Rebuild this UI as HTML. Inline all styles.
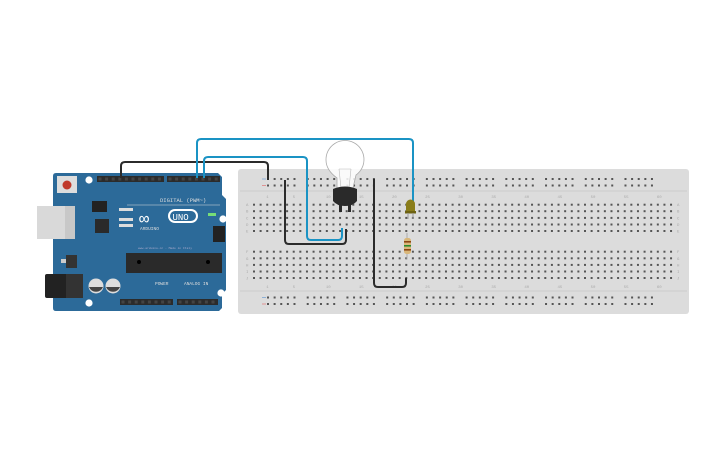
<!DOCTYPE html>
<html><head><meta charset="utf-8"><style>
html,body{margin:0;padding:0;background:#fff;width:725px;height:453px;overflow:hidden}
svg{display:block}
text{font-family:"Liberation Mono",monospace}
</style></head><body>
<svg width="725" height="453" viewBox="0 0 725 453" xmlns="http://www.w3.org/2000/svg">
<!-- breadboard -->
<rect x="238" y="169" width="451" height="145" rx="3" fill="#dcdcdc"/>
<line x1="240" y1="191" x2="687" y2="191" stroke="#c8c8c8" stroke-width="0.8"/>
<line x1="240" y1="291" x2="687" y2="291" stroke="#c8c8c8" stroke-width="0.8"/>
<line x1="262" y1="179" x2="266" y2="179" stroke="#7aa6d6" stroke-width="0.8"/>
<line x1="262" y1="185.5" x2="266" y2="185.5" stroke="#e08080" stroke-width="0.8"/>
<line x1="262" y1="297.5" x2="266" y2="297.5" stroke="#7aa6d6" stroke-width="0.8"/>
<line x1="262" y1="304" x2="266" y2="304" stroke="#e08080" stroke-width="0.8"/>
<g id="holes" fill="#555"></g>
<g font-size="4" fill="#aaa" id="lbls"></g>

<!-- arduino -->
<path d="M56,173 H218 L222,177 V195 L226,199 V290 L222,294 V308 L219,311 H56 Q53,311 53,308 V176 Q53,173 56,173 Z" fill="#2c6a99"/>
<rect x="37" y="206" width="38" height="33" fill="#c8c8c8"/>
<rect x="37" y="206" width="28" height="33" fill="#d9d9d9"/>
<rect x="57" y="176" width="20" height="17" fill="#ddd"/>
<circle cx="67" cy="185" r="4.5" fill="#c0392b"/>
<rect x="45" y="274" width="38" height="24" rx="2" fill="#222"/>
<rect x="66" y="274" width="17" height="24" fill="#333"/>
<rect x="66" y="255" width="11" height="13" fill="#333"/>
<rect x="61" y="259" width="5" height="4" fill="#ccc"/>
<circle cx="96" cy="286" r="7.5" fill="#ddd"/><path d="M89,287 A7.5,7.5 0 0 0 103,287 Z" fill="#444"/>
<circle cx="113" cy="286" r="7.5" fill="#ddd"/><path d="M106,287 A7.5,7.5 0 0 0 120,287 Z" fill="#444"/>
<rect x="95" y="219" width="14" height="14" fill="#2a2a2a"/>
<rect x="92" y="201" width="15" height="11" fill="#222"/>
<rect x="213" y="226" width="12" height="16" fill="#222"/>
<circle cx="89" cy="180" r="3.6" fill="#fff"/>
<circle cx="89" cy="303" r="3.6" fill="#fff"/>
<circle cx="223" cy="219" r="3.6" fill="#fff"/>
<circle cx="221" cy="293" r="3.6" fill="#fff"/>
<rect x="97" y="176" width="67" height="6" fill="#2b2b2b"/>
<rect x="167" y="176" width="53" height="6" fill="#2b2b2b"/>
<rect x="120" y="299" width="53" height="6" fill="#2b2b2b"/>
<rect x="177" y="299" width="41" height="6" fill="#2b2b2b"/>
<g id="pins" fill="#111"></g>
<rect x="126" y="253" width="96" height="20" fill="#2a2a2a"/>
<circle cx="139" cy="262" r="2" fill="#000"/><circle cx="208" cy="262" r="2" fill="#000"/>
<rect x="119" y="208" width="14" height="3" fill="#ddd"/>
<rect x="119" y="218" width="14" height="3" fill="#ddd"/>
<rect x="119" y="224" width="14" height="3" fill="#ddd"/>
<rect x="208" y="213" width="8" height="3" fill="#7d7"/>
<line x1="127" y1="205" x2="220" y2="205" stroke="#ddd" stroke-width="0.6"/>
<text x="160" y="202" font-size="5.5" fill="#ddd">DIGITAL (PWM~)</text>
<text x="139" y="224" font-size="17" fill="#fff" font-family="Liberation Sans,sans-serif">∞</text>
<text x="140" y="230" font-size="4.5" fill="#ddd">ARDUINO</text>
<rect x="168" y="209" width="30" height="14" rx="7" fill="#fff"/>
<rect x="170" y="211" width="26" height="10" rx="5" fill="#2c6a99"/>
<text x="172.5" y="220" font-size="9" fill="#fff" font-family="Liberation Sans,sans-serif">UNO</text>
<text x="155" y="285" font-size="4.5" fill="#ddd">POWER</text>
<text x="184" y="285" font-size="4.5" fill="#ddd">ANALOG IN</text>
<text x="138" y="249" font-size="3" fill="#aac">www.arduino.cc - Made in Italy</text>

<!-- wires -->
<g fill="none" stroke-width="2" stroke-linejoin="round">
<path d="M121,178 V166 Q121,162 125,162 H264 Q268,162 268,166 V180" stroke="#2b2b2b"/>
<path d="M197,178 V143 Q197,139 201,139 H409 Q413,139 413,143 V205" stroke="#1a93c4"/>
<path d="M204,178 V161 Q204,157 208,157 H303 Q307,157 307,161 V236 Q307,240 311,240 H338 Q342,240 342,236 V228" stroke="#1a93c4"/>
<path d="M285,180 V240 Q285,244 289,244 H342 Q346,244 346,240 V229" stroke="#2b2b2b"/>
<path d="M374,179 V283 Q374,287 378,287 H402 Q406,287 406,283 V278" stroke="#2b2b2b"/>
</g>
<!-- lamp -->
<path d="M337,178 Q326,170 326,160 A19,19 0 1 1 356,175 L353,188 H337 Z" fill="#fff" fill-opacity="0.85" stroke="#aaa" stroke-width="0.8"/>
<path d="M341,188 L339,169 M349,188 L351,169 M339,169 H351" stroke="#bbb" stroke-width="0.6" fill="none"/>
<path d="M333,189 Q345,184 357,189 V201 Q353,206 345,206 Q337,206 333,201 Z" fill="#2a2a2a"/>
<rect x="339" y="204" width="3" height="8" fill="#2a2a2a"/><rect x="348" y="204" width="3" height="8" fill="#2a2a2a"/>
<!-- LED -->
<path d="M406,212 V204 A4.5,4.5 0 0 1 415,204 V212 Z" fill="#8a7d1a"/>
<rect x="405" y="211" width="11" height="2.5" fill="#6d6212"/>
<line x1="408" y1="213" x2="408" y2="219" stroke="#999"/><line x1="413" y1="213" x2="413" y2="219" stroke="#999"/>
<!-- resistor -->
<line x1="407" y1="233" x2="407" y2="259" stroke="#aaa"/>
<rect x="404" y="238" width="7" height="16" rx="2.5" fill="#d9b77a"/>
<rect x="404" y="241" width="7" height="1.6" fill="#8b4513"/>
<rect x="404" y="245" width="7" height="1.6" fill="#2a8a2a"/>
<rect x="404" y="249" width="7" height="1.6" fill="#8b4513"/>
</svg>
<script>
var g=document.getElementById('holes'),L=document.getElementById('lbls'),ns='http://www.w3.org/2000/svg';
function h(x,y){var r=document.createElementNS(ns,'rect');r.setAttribute('x',x-1);r.setAttribute('y',y-1);r.setAttribute('width',2);r.setAttribute('height',2);g.appendChild(r);}
var P=6.62;
[204.7,211.2,217.9,224.5,231,251.7,258.3,264.9,271.5,278].forEach(function(y){for(var c=0;c<64;c++)h(254+c*P,y);});
[179,185.5,297.5,304].forEach(function(y){for(var k=0;k<10;k++)for(var j=0;j<5;j++)h(268+k*6*P+j*P,y);});
function t(x,y,s){var e=document.createElementNS(ns,'text');e.setAttribute('x',x);e.setAttribute('y',y);e.textContent=s;L.appendChild(e);}
var rows='ABCDEFGHIJ'.split(''),ys=[204.7,211.2,217.9,224.5,231,251.7,258.3,264.9,271.5,278];
rows.forEach(function(r,i){t(246,ys[i]+1.5,r);t(677,ys[i]+1.5,r);});
[1,5,10,15,20,25,30,35,40,45,50,55,60].forEach(function(n){var x=254+(n+1)*P-1;t(x,198,n);t(x,288,n);});
var pg=document.getElementById('pins');
function pin(x0,x1,y){for(var x=x0+1.5;x<x1-2;x+=6.6){var r=document.createElementNS(ns,'rect');r.setAttribute('x',x);r.setAttribute('y',y+1.5);r.setAttribute('width',3);r.setAttribute('height',3);r.setAttribute('fill','#444');pg.appendChild(r);}}
pin(97,164,176);pin(167,220,176);pin(120,173,299);pin(177,218,299);
</script>
</body></html>
